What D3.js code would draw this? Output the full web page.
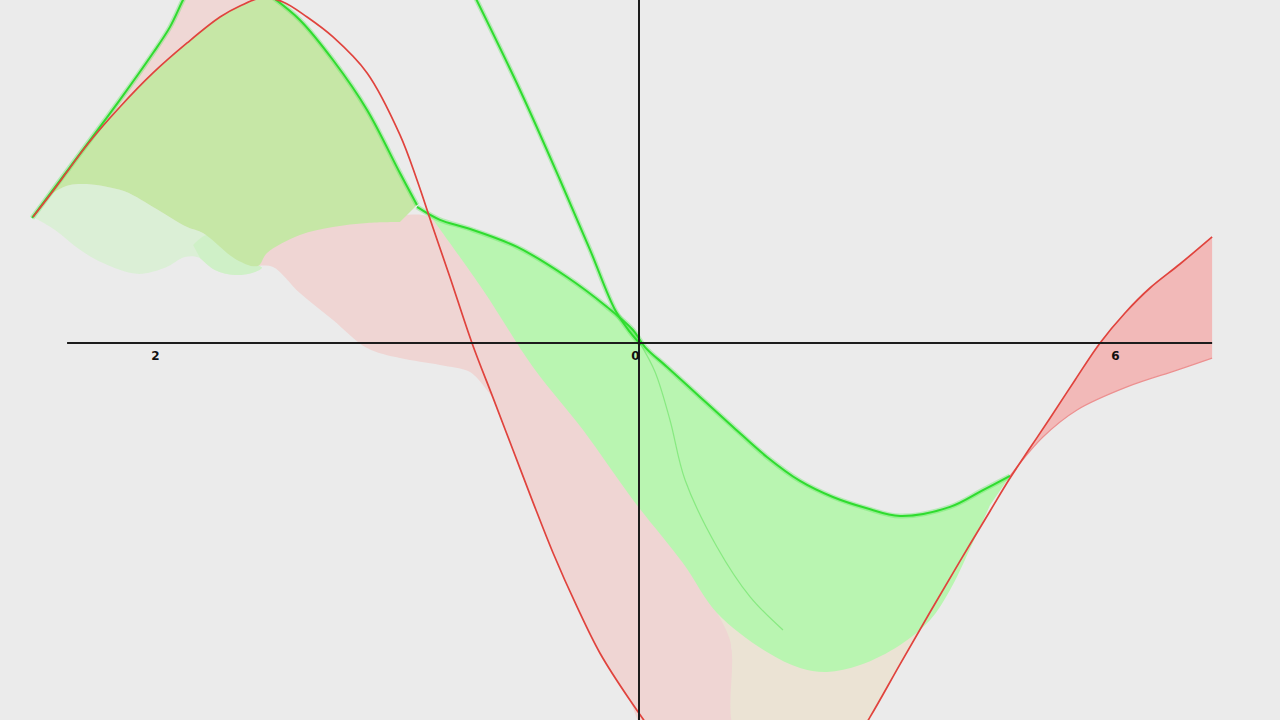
<!DOCTYPE html>
<html><head><meta charset="utf-8">
<script src="https://cdn.jsdelivr.net/npm/d3@7"></script>
<style>html,body{margin:0;padding:0;background:#ebebeb;overflow:hidden}</style>
</head><body><svg id="c" width="1280" height="720"></svg>
<script>
// ---- data (x, y in chart units) ----
const tickValues = [-2, 0, 2];
const tickLabels = ["2", "0", "6"];
const axisExtent = [-2.383, 2.388];

const redCurve = [[-2.525,0.525],[-2.454,0.617],[-2.383,0.713],[-2.300,0.825],[-2.163,0.983],[-2.025,1.125],[-1.883,1.250],[-1.746,1.358],[-1.663,1.404],[-1.571,1.438],[-1.483,1.421],[-1.383,1.358],[-1.275,1.275],[-1.133,1.125],[-0.996,0.867],[-0.925,0.679],[-0.858,0.479],[-0.788,0.275],[-0.696,0],[-0.608,-0.229],[-0.525,-0.446],[-0.442,-0.663],[-0.358,-0.875],[-0.258,-1.100],[-0.163,-1.292],[-0.038,-1.488],[0.088,-1.663],[0.254,-1.863],[0.463,-1.967],[0.671,-1.904],[0.838,-1.758],[0.963,-1.558],[1.088,-1.338],[1.213,-1.121],[1.338,-0.908],[1.463,-0.700],[1.546,-0.563],[1.629,-0.438],[1.713,-0.313],[1.817,-0.154],[1.921,0],[2.025,0.125],[2.129,0.229],[2.254,0.329],[2.388,0.442]];

const greenLeftLine = [[-2.529,0.521],[-2.371,0.733],[-2.163,1.013],[-2.025,1.208],[-1.954,1.317],[-1.900,1.429],[-1.883,1.458]];
const greenSteepLine = [[-0.683,1.442],[-0.496,1.054],[-0.329,0.679],[-0.204,0.388],[-0.100,0.138],[-0.038,0.046],[0.008,-0.008]];
const greenDescent = [[-1.529,1.442],[-1.413,1.346],[-1.275,1.179],[-1.133,0.971],[-0.996,0.708],[-0.925,0.575]];
const greenBandTop = [[-0.925,0.567],[-0.829,0.513],[-0.717,0.479],[-0.508,0.400],[-0.300,0.275],[-0.133,0.150],[-0.025,0.054],[0.025,-0.017],[0.117,-0.100],[0.254,-0.225],[0.392,-0.350],[0.533,-0.475],[0.671,-0.575],[0.808,-0.642],[0.946,-0.688],[1.088,-0.721],[1.296,-0.683],[1.433,-0.613],[1.546,-0.554]];
const greenBandBottom = [[1.463,-0.675],[1.358,-0.904],[1.296,-1.029],[1.213,-1.154],[1.088,-1.258],[0.921,-1.342],[0.783,-1.371],[0.671,-1.354],[0.533,-1.288],[0.325,-1.125],[0.183,-0.917],[-0.025,-0.654],[-0.233,-0.363],[-0.442,-0.100],[-0.650,0.221],[-0.858,0.513]];
const greenInner = [[0.008,-0.008],[0.067,-0.121],[0.129,-0.321],[0.192,-0.571],[0.325,-0.850],[0.463,-1.058],[0.600,-1.196]];

const leftGreenBottom = [[-0.996,0.504],[-1.133,0.500],[-1.275,0.483],[-1.413,0.450],[-1.550,0.375],[-1.588,0.321],[-1.675,0.346],[-1.817,0.458],[-1.883,0.483],[-2.025,0.567],[-2.163,0.638],[-2.371,0.658],[-2.475,0.596],[-2.525,0.525]];
const paleBottom = [[-2.525,0.525],[-2.433,0.471],[-2.329,0.388],[-2.233,0.333],[-2.092,0.288],[-1.975,0.313],[-1.892,0.358],[-1.829,0.354],[-1.767,0.304],[-1.683,0.283],[-1.600,0.296],[-1.571,0.313]];
const paleRightBump = [[-1.858,0.408],[-1.800,0.450],[-1.700,0.400],[-1.600,0.330],[-1.571,0.313],[-1.600,0.296],[-1.683,0.283],[-1.767,0.304],[-1.829,0.354]];

const pinkLeftEdge = [[-1.588,0.321],[-1.525,0.317],[-1.413,0.208],[-1.275,0.096],[-1.133,-0.021],[-0.996,-0.063],[-0.829,-0.092],[-0.704,-0.121],[-0.650,-0.175]];
const pinkRightEdge = [[0.025,-1.650],[0.421,-1.650],[0.392,-1.321],[0.358,-1.113],[0.254,-0.946],[0.004,-0.571],[-0.329,-0.063],[-0.663,0.379],[-0.870,0.525],[-0.996,0.533],[-1.275,0.513],[-1.550,0.396]];
const beigeTop = [[1.296,-0.904],[0.879,-1.071],[0.504,-1.029],[0.254,-0.967],[0.379,-1.238],[0.421,-1.650],[0.963,-1.650]];
const rightBandLower = [[2.388,-0.063],[2.242,-0.113],[2.033,-0.183],[1.825,-0.279],[1.683,-0.392],[1.546,-0.554]];

// ---- scales ----
const W = 1280, H = 720;
const x = d3.scaleLinear().domain([-2, 2]).range([159, 1119]);
const y = d3.scaleLinear().domain([-1.571, 1.429]).range([720, 0]);

const svg = d3.select("#c");
svg.append("rect").attr("width", W).attr("height", H).attr("fill", "#ebebeb");
const g = svg.append("g");

const curve = d3.line().x(d => x(d[0])).y(d => y(d[1])).curve(d3.curveCatmullRom.alpha(0.5));
const joinPath = parts => parts.map((p, i) => { const s = curve(p); return i === 0 ? s : "L" + s.slice(1); }).join("") + "Z";

const between = (a, b) => redCurve.filter(d => d[0] >= a && d[0] <= b);
const redAsc = between(-3, -1.56);
const redRight = between(1.54, 3);

// sliver between green left line and red ascent
g.append("path").attr("d", joinPath([greenLeftLine, redAsc.slice().reverse()])).attr("fill", "#efd7d5");

// pink middle region
g.append("path").attr("d", joinPath([pinkLeftEdge, between(-0.62, -0.03), pinkRightEdge])).attr("fill", "#efd5d3");
// beige region
g.append("path").attr("d", joinPath([between(0.96, 1.47), beigeTop])).attr("fill", "#ebe3d4");
// right pink band
g.append("path").attr("d", joinPath([redRight, rightBandLower])).attr("fill", "#f2b9b8");
g.append("path").attr("d", curve(rightBandLower)).attr("fill", "none")
  .attr("stroke", "#ec9090").attr("stroke-width", 1.2);

// pale green lower-left region (two tones)
g.append("path").attr("d", joinPath([paleBottom, leftGreenBottom.slice(5)])).attr("fill", "#dbefd6");
g.append("path").attr("d", joinPath([paleRightBump])).attr("fill", "#cff0c7");
// left green region
g.append("path").attr("d", joinPath([redAsc, greenDescent, leftGreenBottom])).attr("fill", "#c6e7a6");
// middle green band
g.append("path").attr("d", joinPath([greenBandTop, greenBandBottom])).attr("fill", "#b9f5b1");

// faint inner green line
g.append("path").attr("d", curve(greenInner)).attr("fill", "none")
  .attr("stroke", "#5fe05a").attr("stroke-opacity", 0.55).attr("stroke-width", 1.2);

// green lines with glow
[greenDescent, greenBandTop, greenLeftLine, greenSteepLine].forEach(pts => {
  g.append("path").attr("d", curve(pts)).attr("fill", "none")
    .attr("stroke", "#3fe63f").attr("stroke-opacity", 0.3).attr("stroke-width", 5);
  g.append("path").attr("d", curve(pts)).attr("fill", "none")
    .attr("stroke", "#2fdc2f").attr("stroke-width", 2);
});

// red line
g.append("path").attr("d", curve(redCurve)).attr("fill", "none")
  .attr("stroke", "#e0433d").attr("stroke-width", 1.7);

// axes
svg.append("line").attr("x1", x(axisExtent[0])).attr("x2", x(axisExtent[1]))
  .attr("y1", y(0)).attr("y2", y(0)).attr("stroke", "#1c1c1c").attr("stroke-width", 2);
svg.append("line").attr("x1", x(0)).attr("x2", x(0))
  .attr("y1", 0).attr("y2", H).attr("stroke", "#1c1c1c").attr("stroke-width", 2);

const ax = d3.axisBottom(x).tickValues(tickValues).tickSize(0).tickPadding(9)
  .tickFormat((d, i) => tickLabels[i]);
const axG = svg.append("g").attr("transform", `translate(0,${y(0)})`).call(ax);
axG.select(".domain").remove();
axG.selectAll("text").attr("font-family", "DejaVu Sans, sans-serif")
  .attr("font-size", 12).attr("font-weight", "bold").attr("fill", "#111").attr("dx", "-0.35em");
</script></body></html>
